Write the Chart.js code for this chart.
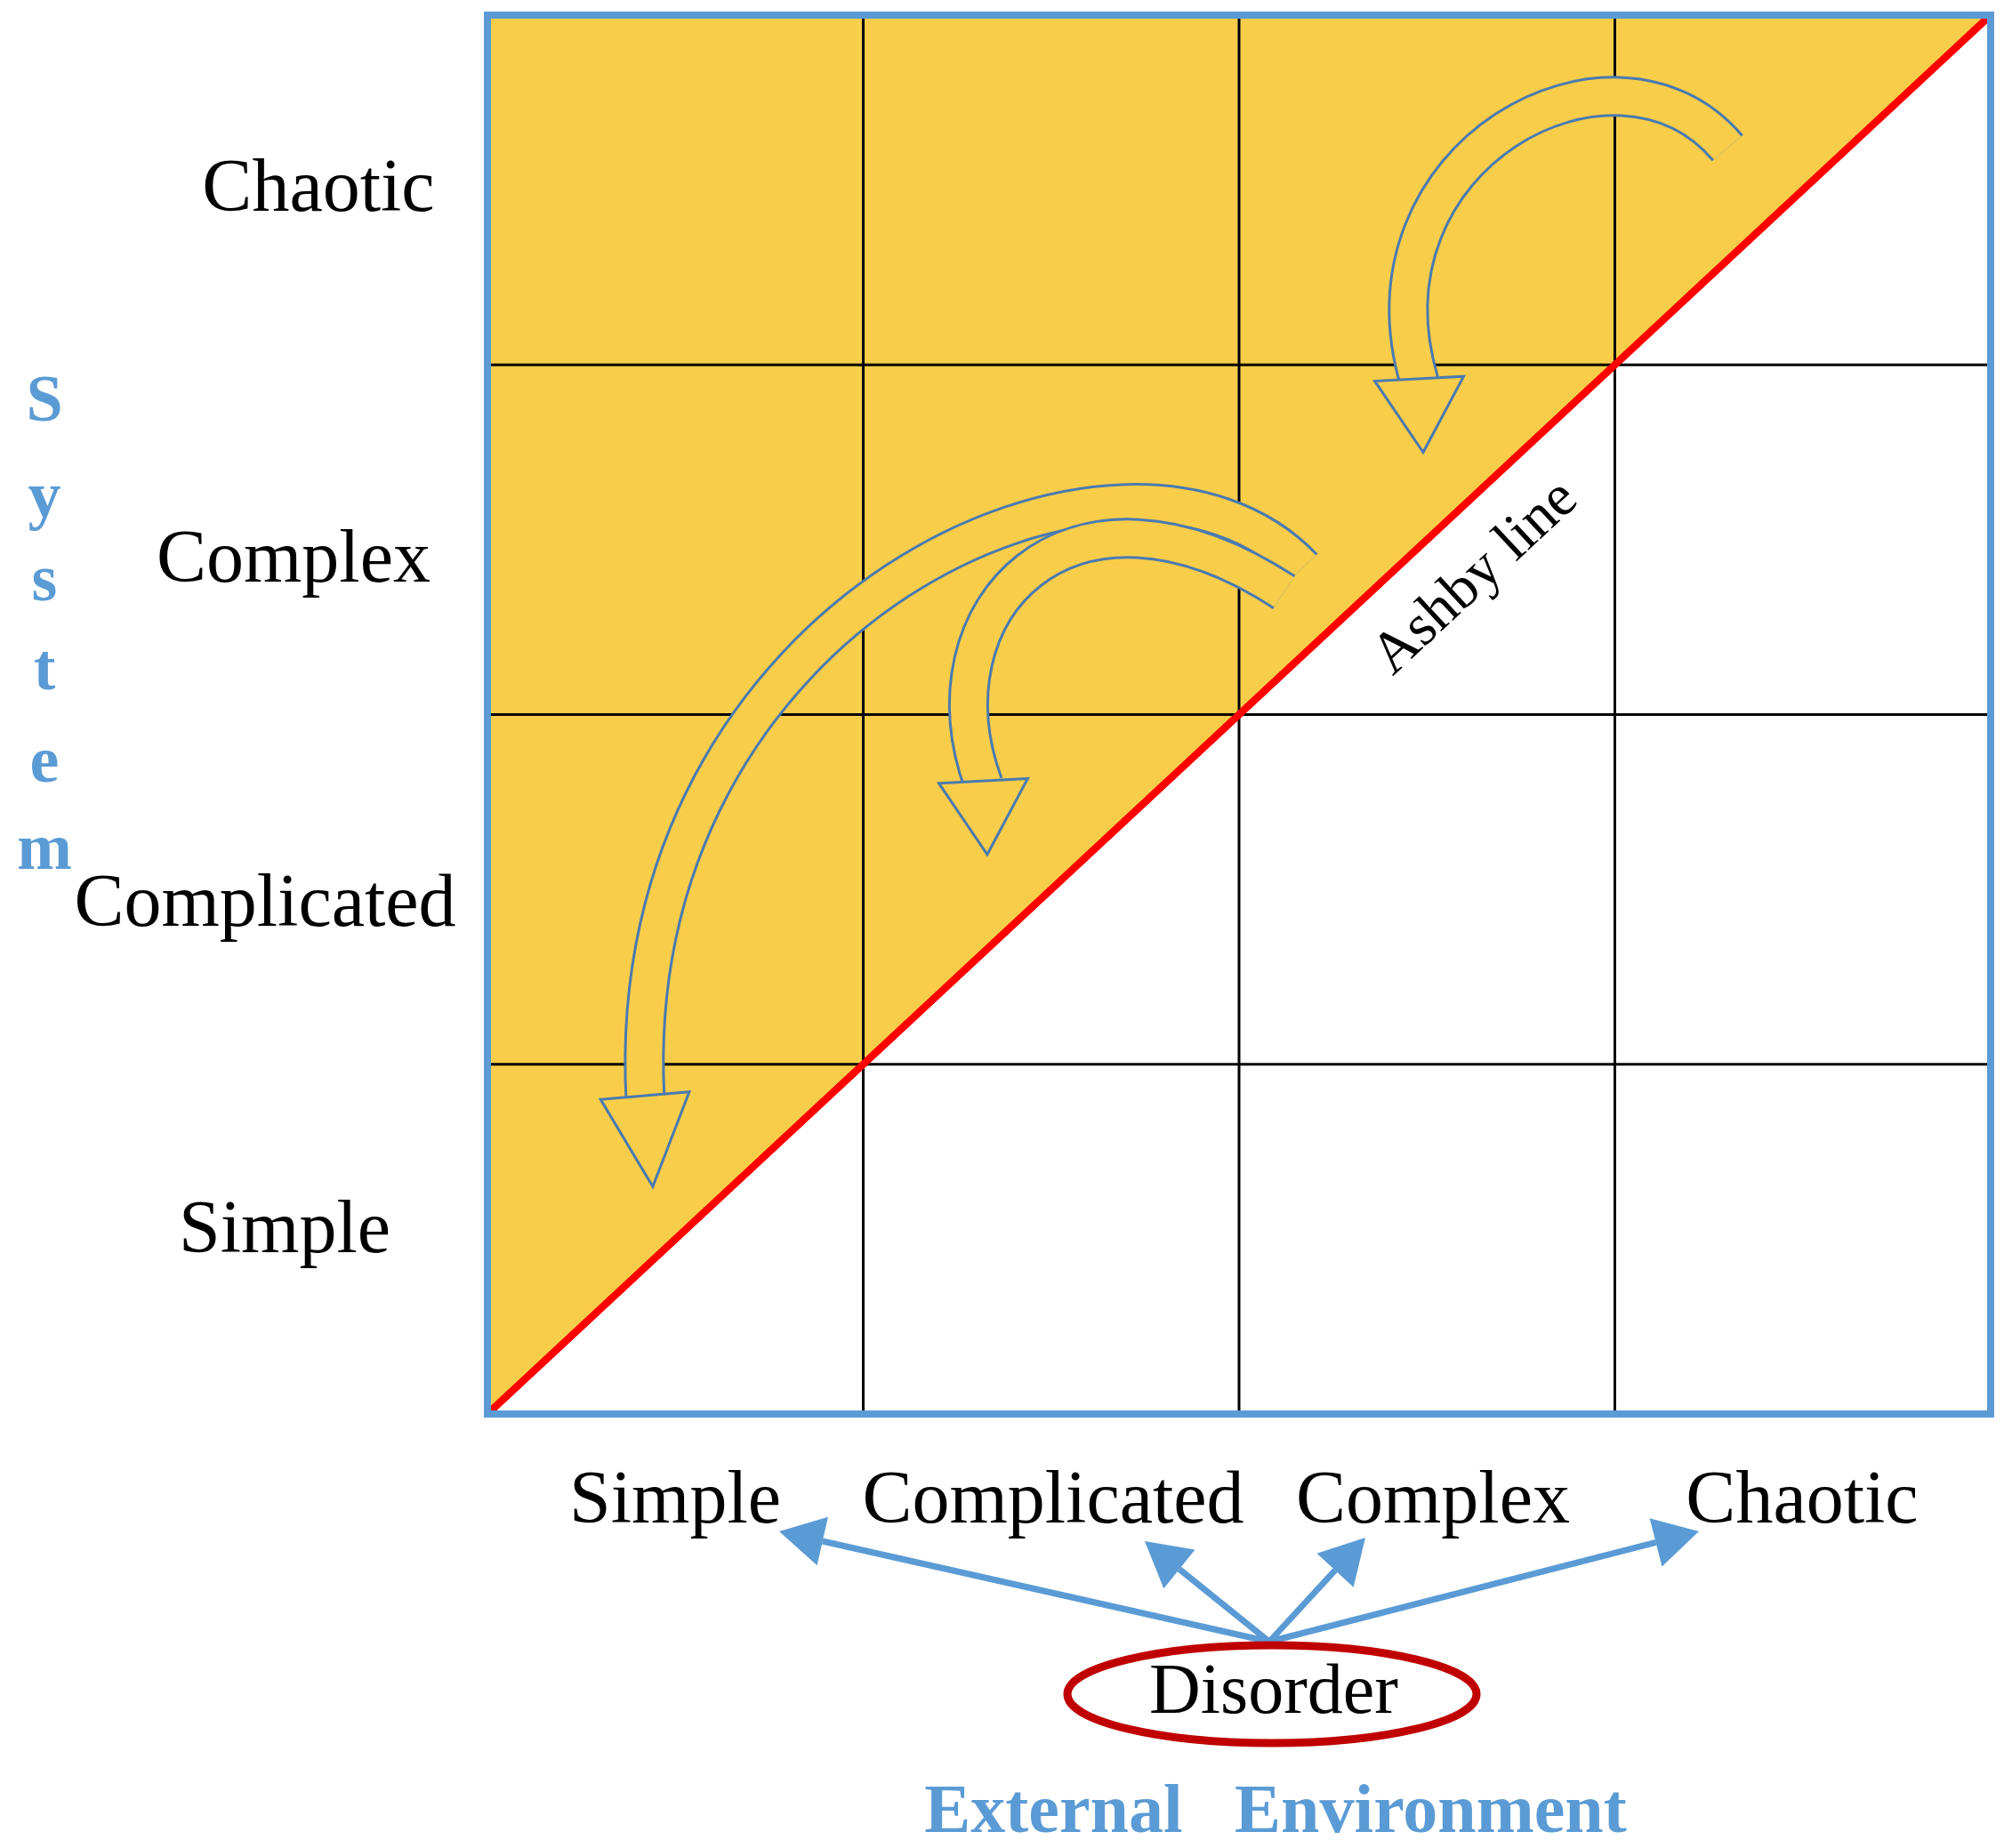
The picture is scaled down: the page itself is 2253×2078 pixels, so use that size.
<!DOCTYPE html>
<html><head><meta charset="utf-8">
<script src="https://cdn.jsdelivr.net/npm/chart.js@4"></script>
<style>html,body{margin:0;padding:0;background:#fff}#w{width:2253px;height:2078px}</style>
</head><body><div id="w"><canvas id="c"></canvas></div>
<script>
const categories = ["Simple","Complicated","Complex","Chaotic"];
const systemLetters = ["S","y","s","t","e","m"];
const ashbyLine = [{x:0,y:0},{x:4,y:4}];
const gridValues = [0,1,2,3,4];
// curved transition arrows: [start, control1, control2, end(head base), tip] in data units
const arrows = [
  [[2.17,2.42],[1.7,2.95],[0.35,2.3],[0.42,0.9],[0.44,0.65]],
  [[2.12,2.35],[1.55,2.75],[1.15,2.3],[1.32,1.8],[1.33,1.6]],
  [[3.3,3.62],[3.0,4.0],[2.3,3.6],[2.48,2.95],[2.49,2.75]]
];
const FONT = '"Liberation Serif","DejaVu Serif",serif';
const BLUE = '#5b9bd5';
const YEL = '#f7cd4a';

const deco = {
  id:'deco',
  afterDatasetsDraw(chart){
    const c = chart.ctx, xs = chart.scales.x, ys = chart.scales.y, a = chart.chartArea;
    const X = v=>xs.getPixelForValue(v), Y = v=>ys.getPixelForValue(v);
    c.save();
    // grid
    c.strokeStyle='#000'; c.lineWidth=3;
    gridValues.forEach(v=>{
      c.beginPath(); c.moveTo(X(v),a.top); c.lineTo(X(v),a.bottom); c.stroke();
      c.beginPath(); c.moveTo(a.left,Y(v)); c.lineTo(a.right,Y(v)); c.stroke();
    });
    // red line redraw on top of grid
    c.strokeStyle='#ff0000'; c.lineWidth=8;
    c.beginPath(); c.moveTo(X(0),Y(0)); c.lineTo(X(4),Y(4)); c.stroke();
    // arrows
    arrows.forEach(ar=>{
      const p = ar.map(q=>[X(q[0]),Y(q[1])]);
      const path=()=>{c.beginPath();c.moveTo(p[0][0],p[0][1]);c.bezierCurveTo(p[1][0],p[1][1],p[2][0],p[2][1],p[3][0],p[3][1]);};
      c.lineCap='butt';
      path(); c.strokeStyle='#4a7ab0'; c.lineWidth=46; c.stroke();
      path(); c.strokeStyle=YEL; c.lineWidth=40; c.stroke();
      const dx=p[4][0]-p[3][0], dy=p[4][1]-p[3][1], L=Math.hypot(dx,dy);
      const nx=-dy/L*50, ny=dx/L*50;
      const bx=p[3][0]-dx/L*4, by=p[3][1]-dy/L*4;
      c.beginPath(); c.moveTo(bx+nx,by+ny); c.lineTo(p[4][0],p[4][1]); c.lineTo(bx-nx,by-ny); c.closePath();
      c.fillStyle=YEL; c.fill(); c.strokeStyle='#4a7ab0'; c.lineWidth=3; c.stroke();
    });
    // border
    c.strokeStyle=BLUE; c.lineWidth=8;
    c.strokeRect(a.left,a.top,a.right-a.left,a.bottom-a.top);
    // Ashby label
    const ang = Math.atan2(Y(4)-Y(0), X(4)-X(0));
    c.save(); c.translate(X(2.63),Y(2.39)); c.rotate(ang);
    c.fillStyle='#000'; c.font='66px '+FONT; c.textAlign='center'; c.textBaseline='middle';
    c.fillText('Ashby line',0,0); c.restore();
    // y category labels
    c.fillStyle='#000'; c.font='84px '+FONT; c.textBaseline='middle'; c.textAlign='center';
    const yPos=[[320,1386],[298,1019],[330,632],[358,215]];
    categories.forEach((t,i)=>c.fillText(t,yPos[i][0],yPos[i][1]));
    // x labels
    const xPos=[759,1184,1611,2026];
    categories.forEach((t,i)=>c.fillText(t,xPos[i],1690));
    // System
    c.fillStyle=BLUE; c.font='bold 74px '+FONT;
    const sy=[454,562,656,756,860,958];
    systemLetters.forEach((t,i)=>c.fillText(t,50,sy[i]));
    // disorder arrows
    const o=[1427,1846];
    const tg=[[876,1722],[1287,1733],[1535,1729],[1910,1722]];
    c.strokeStyle=BLUE; c.fillStyle=BLUE; c.lineWidth=7;
    tg.forEach(t=>{
      const dx=t[0]-o[0], dy=t[1]-o[1], L=Math.hypot(dx,dy), ux=dx/L, uy=dy/L;
      const hx=t[0]-ux*50, hy=t[1]-uy*50;
      c.beginPath(); c.moveTo(o[0],o[1]); c.lineTo(hx,hy); c.stroke();
      c.beginPath(); c.moveTo(t[0],t[1]); c.lineTo(hx-uy*28,hy+ux*28); c.lineTo(hx+uy*28,hy-ux*28); c.closePath(); c.fill();
    });
    // ellipse
    c.strokeStyle='#c00000'; c.lineWidth=9;
    c.beginPath(); c.ellipse(1430,1905,230,55,0,0,Math.PI*2); c.stroke();
    c.fillStyle='#000'; c.font='80px '+FONT; c.fillText('Disorder',1432,1905);
    c.fillStyle=BLUE; c.font='bold 78px '+FONT;
    c.fillText('External   Environment',1434,2040);
    c.restore();
  }
};

new Chart(document.getElementById('c'),{
  type:'line',
  data:{datasets:[{data:ashbyLine,borderColor:'#ff0000',borderWidth:8,pointRadius:0,fill:'end',backgroundColor:YEL}]},
  options:{
    responsive:true,maintainAspectRatio:false,animation:false,
    layout:{padding:{left:548,top:17,right:15,bottom:488}},
    plugins:{legend:{display:false},tooltip:{enabled:false}},
    scales:{
      x:{type:'linear',min:0,max:4,display:false},
      y:{type:'linear',min:0,max:4,display:false}
    }
  },
  plugins:[deco]
});
</script></body></html>
